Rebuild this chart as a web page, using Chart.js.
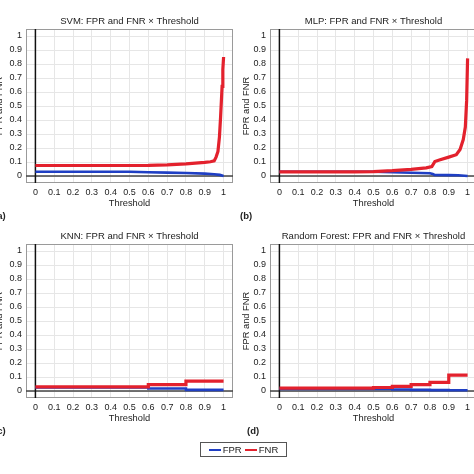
<!DOCTYPE html>
<html>
<head>
<meta charset="utf-8">
<script src="https://cdn.jsdelivr.net/npm/chart.js@4/dist/chart.umd.min.js"></script>
<style>
  body { margin: 0; width: 474px; height: 474px; overflow: hidden; background: #fff; position: relative;
         font-family: 'Liberation Sans', Arial, sans-serif; color: #222; }
  .panel { position: absolute; width: 250px; height: 215px; }
  .tag { position: absolute; font-size: 9.5px; font-weight: bold; line-height: 11px; }
  #legend { position: absolute; left: 200px; top: 442px; width: 85px; height: 13px; border: 1px solid #555;
            font-size: 9.5px; line-height: 13px; display: flex; align-items: center; justify-content: center; gap: 3px; }
  #legend .sw { display: inline-block; width: 12px; height: 0; border-top: 2.6px solid; margin-right: 2px; vertical-align: middle; }
</style>
</head>
<body>
<div class="panel" style="left:-10px; top:0px;"><canvas id="svm" width="250" height="215"></canvas></div>
<div class="panel" style="left:234px; top:0px;"><canvas id="mlp" width="250" height="215"></canvas></div>
<div class="panel" style="left:-10px; top:215px;"><canvas id="knn" width="250" height="215"></canvas></div>
<div class="panel" style="left:234px; top:215px;"><canvas id="rf" width="250" height="215"></canvas></div>
<div class="tag" style="left:-6px; top:210px;">(a)</div>
<div class="tag" style="left:240px; top:210px;">(b)</div>
<div class="tag" style="left:-6px; top:425px;">(c)</div>
<div class="tag" style="left:247px; top:425px;">(d)</div>
<div id="legend">
  <span><span class="sw" style="border-color:#1f3fc4"></span>FPR</span>
  <span><span class="sw" style="border-color:#e3212d"></span>FNR</span>
</div>
<script>
// tick positions / labels shared by every panel
const tickValues = [0, 0.1, 0.2, 0.3, 0.4, 0.5, 0.6, 0.7, 0.8, 0.9, 1];
const tickLabels = ['0', '0.1', '0.2', '0.3', '0.4', '0.5', '0.6', '0.7', '0.8', '0.9', '1'];
const axisMin = -0.05;
const axisMax = 1.05;

// SVM
const svmFnrX = [0, 0.1, 0.2, 0.3, 0.4, 0.5, 0.6, 0.7, 0.8, 0.85, 0.9, 0.93, 0.95, 0.96, 0.97, 0.978, 0.984, 0.988, 0.992, 0.996, 1];
const svmFnr  = [0.075, 0.075, 0.075, 0.075, 0.075, 0.075, 0.076, 0.08, 0.087, 0.092, 0.097, 0.102, 0.108, 0.135, 0.175, 0.28, 0.42, 0.53, 0.64, 0.76, 0.85];
const svmFprX = [0, 0.5, 0.6, 0.7, 0.8, 0.9, 0.95, 0.98, 1];
const svmFpr  = [0.03, 0.03, 0.027, 0.024, 0.021, 0.017, 0.013, 0.008, 0];

// MLP
const mlpFnrX = [0, 0.1, 0.2, 0.3, 0.4, 0.5, 0.55, 0.6, 0.7, 0.78, 0.81, 0.826, 0.85, 0.9, 0.94, 0.96, 0.977, 0.988, 0.995, 1];
const mlpFnr  = [0.03, 0.03, 0.03, 0.03, 0.03, 0.031, 0.035, 0.038, 0.047, 0.058, 0.068, 0.103, 0.115, 0.135, 0.152, 0.19, 0.26, 0.35, 0.54, 0.84];
const mlpFprX = [0, 0.5, 0.6, 0.7, 0.8, 0.815, 0.825, 0.9, 0.95, 1];
const mlpFpr  = [0.03, 0.03, 0.027, 0.023, 0.02, 0.014, 0.008, 0.006, 0.005, 0];

// KNN (step)
const knnX   = [0, 0.6, 0.8, 1];
const knnFnr = [0.03, 0.045, 0.07, 0.07];
const knnFpr = [0.025, 0.018, 0.008, 0.008];

// Random Forest (step)
const rfX   = [0, 0.5, 0.6, 0.7, 0.8, 0.9, 1];
const rfFnr = [0.02, 0.025, 0.033, 0.045, 0.062, 0.113, 0.113];
const rfFpr = [0.015, 0.015, 0.011, 0.008, 0.006, 0.005, 0.005];

const fprColor = '#1f3fc4';
const fnrColor = '#e3212d';
const fontFamily = "'Liberation Sans', Arial, sans-serif";

function toPoints(xs, ys) {
    return xs.map((x, i) => ({ x: x, y: ys[i] }));
}

// grey box around the plot area
const framePlugin = {
    id: 'frame',
    beforeDatasetsDraw(chart) {
        const { ctx, chartArea: a } = chart;
        ctx.save();
        ctx.strokeStyle = '#9a9a9a';
        ctx.lineWidth = 1;
        ctx.strokeRect(a.left + 0.5, a.top + 0.5, a.width - 1, a.height - 1);
        ctx.restore();
    }
};

function makeChart(id, title, fnrPts, fprPts, stepped, yTitlePad) {
    const setTicks = (scale) => { scale.ticks = tickValues.map(v => ({ value: v })); };
    new Chart(document.getElementById(id), {
        type: 'line',
        data: {
            datasets: [
                { label: 'FNR', data: fnrPts, borderColor: fnrColor, borderWidth: 3.2, stepped: stepped, order: 0 },
                { label: 'FPR', data: fprPts, borderColor: fprColor, borderWidth: 2.6, stepped: stepped, order: 1 },
                { label: 'x0', data: [{ x: 0, y: axisMin }, { x: 0, y: axisMax }], borderColor: '#111', borderWidth: 1.5, order: 2 },
                { label: 'y0', data: [{ x: axisMin, y: 0 }, { x: axisMax, y: 0 }], borderColor: '#444', borderWidth: 1.5, order: 3 }
            ]
        },
        options: {
            responsive: false,
            animation: false,
            devicePixelRatio: 1,
            elements: { point: { radius: 0 }, line: { tension: 0 } },
            layout: { padding: { top: 15.6, bottom: 6, left: 0, right: 7 } },
            plugins: {
                legend: { display: false },
                tooltip: { enabled: false },
                title: {
                    display: true,
                    fullSize: false,
                    text: title,
                    color: '#222',
                    font: { family: fontFamily, size: 9.5, weight: 'normal' },
                    padding: { top: 0, bottom: 2 }
                }
            },
            scales: {
                x: {
                    type: 'linear',
                    min: axisMin,
                    max: axisMax,
                    afterBuildTicks: setTicks,
                    afterFit: (s) => { s.height = 26; },
                    grid: { color: '#e6e6e6', drawTicks: false },
                    border: { display: false },
                    ticks: {
                        autoSkip: false, maxRotation: 0, padding: 4, color: '#222',
                        font: { family: fontFamily, size: 9 },
                        callback: (v, i) => tickLabels[i]
                    },
                    title: {
                        display: true, text: 'Threshold', color: '#222',
                        font: { family: fontFamily, size: 9.3 },
                        padding: { top: 0, bottom: 0 }
                    }
                },
                y: {
                    type: 'linear',
                    min: axisMin,
                    max: axisMax,
                    afterBuildTicks: setTicks,
                    afterFit: (s) => { s.width = 36; },
                    grid: { color: '#e6e6e6', drawTicks: false },
                    border: { display: false },
                    ticks: {
                        autoSkip: false, padding: 4, color: '#222',
                        font: { family: fontFamily, size: 9 },
                        callback: (v, i) => tickLabels[i]
                    },
                    title: {
                        display: true, text: 'FPR and FNR', color: '#222',
                        font: { family: fontFamily, size: 9.3 },
                        padding: { top: yTitlePad, bottom: 0 }
                    }
                }
            }
        },
        plugins: [framePlugin]
    });
}

makeChart('svm', 'SVM: FPR and FNR \u00d7 Threshold', toPoints(svmFnrX, svmFnr), toPoints(svmFprX, svmFpr), false, 3.5);
makeChart('mlp', 'MLP: FPR and FNR \u00d7 Threshold', toPoints(mlpFnrX, mlpFnr), toPoints(mlpFprX, mlpFpr), false, 6.5);
makeChart('knn', 'KNN: FPR and FNR \u00d7 Threshold', toPoints(knnX, knnFnr), toPoints(knnX, knnFpr), 'before', 3.5);
makeChart('rf', 'Random Forest: FPR and FNR \u00d7 Threshold', toPoints(rfX, rfFnr), toPoints(rfX, rfFpr), 'before', 6.5);
</script>
</body>
</html>
